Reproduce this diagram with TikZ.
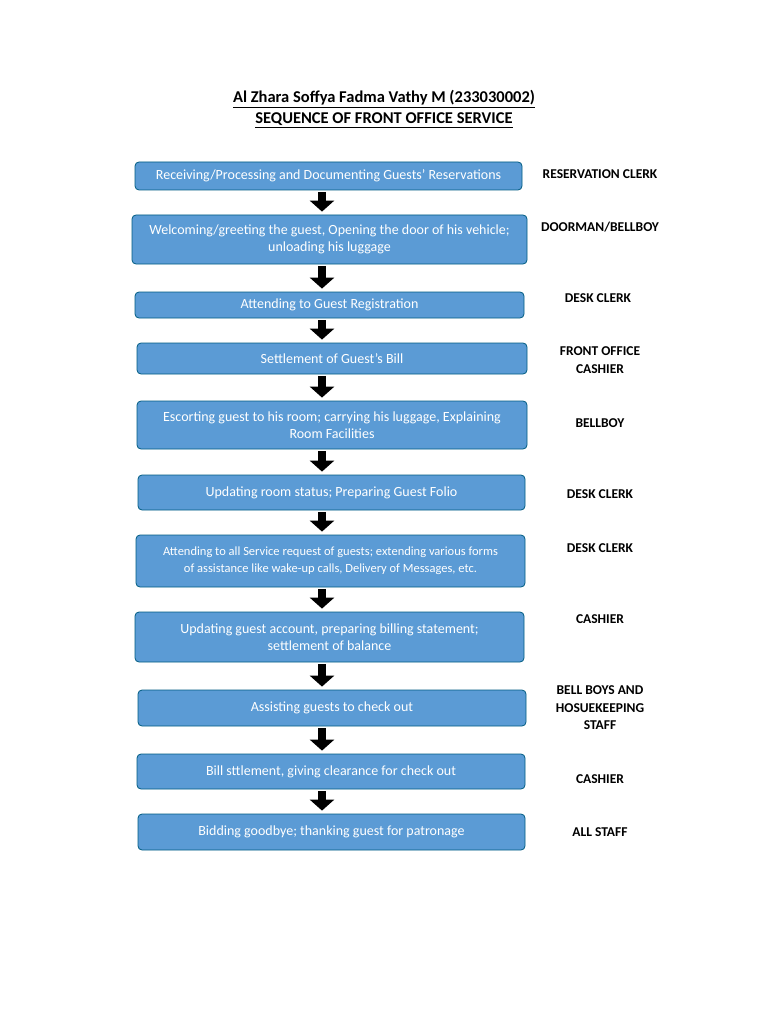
\documentclass[tikz,border=0pt]{standalone}
\usepackage{fontspec}
\setmainfont{Carlito}
\usetikzlibrary{arrows.meta}
\begin{document}
\begin{tikzpicture}[x=1pt,y=-1pt,
  box/.style={draw=black!40!blue!40!cyan!60!black, fill=boxblue, rounded corners=4pt, text=white, font=\fontsize{14}{17}\selectfont, align=center, inner sep=0pt, line width=0.8pt},
  role/.style={font=\bfseries\fontsize{13.5}{17.5}\selectfont, align=center},
  barrow/.style={line width=8pt, -{Triangle[length=11pt,width=24pt]}, shorten <=2pt, shorten >=3pt}]
\definecolor{boxblue}{HTML}{5B9BD5}
\useasboundingbox (0,0) rectangle (768,1024);
\coordinate (ax) at (322,0);
\node[font=\bfseries\fontsize{16.5}{20}\selectfont] (t1) at (384,99) {\underline{Al Zhara Soffya Fadma Vathy M (233030002)}};
\node[font=\bfseries\fontsize{16.5}{20}\selectfont] (t2) at (384,120) {\underline{SEQUENCE OF FRONT OFFICE SERVICE}};
\newcommand{\bx}[6]{\node[box, minimum width=#3-#2, minimum height=#5-#4] (#1) at ({(#2+#3)/2},{(#4+#5)/2}) {#6};}
\bx{b1}{135}{522}{162}{190}{Receiving/Processing and Documenting Guests’ Reservations}
\bx{b2}{132}{527}{215}{264}{Welcoming/greeting the guest, Opening the door of his vehicle;\\unloading his luggage}
\bx{b3}{135}{524}{292}{318}{Attending to Guest Registration}
\bx{b4}{137}{527}{343}{374}{Settlement of Guest’s Bill}
\bx{b5}{137}{527}{401}{449}{Escorting guest to his room; carrying his luggage, Explaining\\Room Facilities}
\bx{b6}{138}{525}{475}{510}{Updating room status; Preparing Guest Folio}
\node[box, minimum width=389, minimum height=52, font=\fontsize{12.5}{17}\selectfont] (b7) at (330.5,561) {Attending to all Service request of guests; extending various forms\\of assistance like wake-up calls, Delivery of Messages, etc.};
\bx{b8}{135}{524}{612}{662}{Updating guest account, preparing billing statement;\\settlement of balance}
\bx{b9}{138}{526}{690}{726}{Assisting guests to check out}
\bx{b10}{137}{525}{754}{789}{Bill sttlement, giving clearance for check out}
\bx{b11}{138}{525}{814}{850}{Bidding goodbye; thanking guest for patronage}
\foreach \a/\b in {b1/b2,b2/b3,b3/b4,b4/b5,b5/b6,b6/b7,b7/b8,b8/b9,b9/b10,b10/b11}
  \draw[barrow] (\a.south -| ax) -- (\b.north -| ax);
\node[role] (r1) at (600,174) {RESERVATION CLERK};
\node[role] (r2) at (600,227) {DOORMAN/BELLBOY};
\node[role] (r3) at (598,298) {DESK CLERK};
\node[role] (r4) at (600,360) {FRONT OFFICE\\CASHIER};
\node[role] (r5) at (600,423) {BELLBOY};
\node[role] (r6) at (600,494) {DESK CLERK};
\node[role] (r7) at (600,548) {DESK CLERK};
\node[role] (r8) at (600,619) {CASHIER};
\node[role] (r9) at (600,708) {BELL BOYS AND\\HOSUEKEEPING\\STAFF};
\node[role] (r10) at (600,779) {CASHIER};
\node[role] (r11) at (600,832) {ALL STAFF};
\end{tikzpicture}
\end{document}
